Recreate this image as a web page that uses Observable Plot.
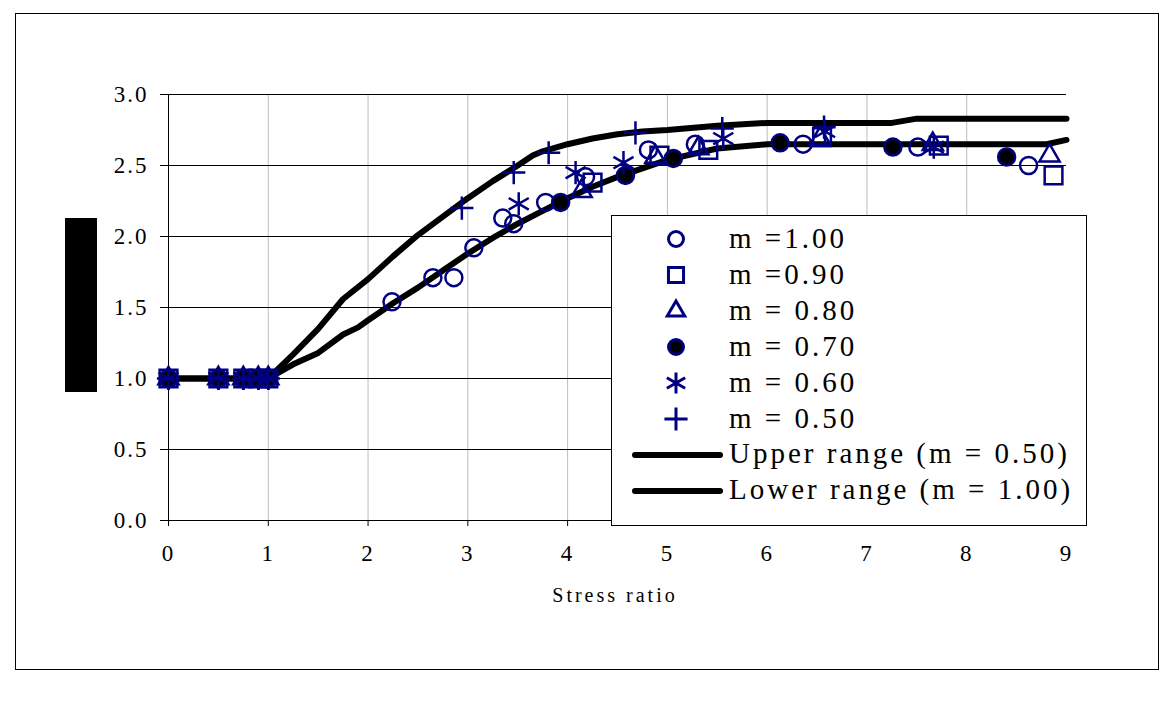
<!DOCTYPE html>
<html><head><meta charset="utf-8">
<script src="https://cdn.jsdelivr.net/npm/d3@7"></script>
<script src="https://cdn.jsdelivr.net/npm/@observablehq/plot@0.6"></script>
<style>
body{margin:0;background:#fff;}
#wrap{position:relative;width:1173px;height:704px;font-family:"Liberation Serif","Times New Roman",serif;overflow:hidden;}
#wrap > *{position:absolute;}
#frame{left:15px;top:13px;width:1142px;height:655px;border:1px solid #000;box-sizing:content-box;}
#ybox{left:65px;top:218px;width:32px;height:174px;background:#000;}
#xlabel{left:0;width:1230px;top:584px;text-align:center;font-size:20px;letter-spacing:3px;}
#legend{left:611px;top:215px;}
</style></head><body><div id="wrap"><div id="frame"></div></div>
<script>
// ---- data ----
const xTicks = [0,1,2,3,4,5,6,7,8,9];
const yTicks = [0,0.5,1.0,1.5,2.0,2.5,3.0];
const xGrid = [1,2,3,4,5,6,7,8];

const upperX = [0,1.0,1.25,1.5,1.75,2.0,2.25,2.5,2.75,3.0,3.25,3.5,3.65,3.75,4.0,4.25,4.5,4.75,5.0,5.5,6.0,6.5,7.0,7.25,7.5,8.0,8.5,9.0];
const upperY = [1,1.0,1.17,1.35,1.56,1.70,1.86,2.01,2.14,2.27,2.39,2.50,2.57,2.60,2.65,2.69,2.72,2.74,2.75,2.78,2.80,2.80,2.80,2.80,2.83,2.83,2.83,2.83];
const lowerX = [0,1.0,1.25,1.5,1.75,1.9,2.0,2.25,2.5,2.75,3.0,3.25,3.5,3.75,4.0,4.25,4.5,4.75,5.0,5.5,6.0,6.5,7.0,7.5,8.0,8.5,8.8,9.0];
const lowerY = [1,1.0,1.10,1.18,1.31,1.36,1.41,1.53,1.64,1.76,1.88,1.99,2.09,2.18,2.27,2.35,2.42,2.48,2.54,2.62,2.65,2.65,2.65,2.65,2.65,2.65,2.65,2.68];

const m100X = [0,0.5,0.75,0.9,1.0,2.24,2.65,2.86,3.06,3.35,3.46,3.78,4.18,4.81,5.28,6.36,7.51,8.62];
const m100Y = [1,1,1,1,1,1.54,1.71,1.71,1.92,2.13,2.09,2.24,2.42,2.61,2.65,2.65,2.63,2.50];
const m090X = [0,0.5,0.75,0.9,1.0,4.25,4.92,5.41,6.55,7.72,8.87];
const m090Y = [1,1,1,1,1,2.38,2.57,2.61,2.70,2.64,2.43];
const m080X = [0,0.5,0.75,0.9,1.0,4.14,4.88,5.31,6.53,7.66,8.83];
const m080Y = [1,1,1,1,1,2.32,2.56,2.62,2.69,2.65,2.57];
const m070X = [0,0.5,0.75,0.9,1.0,3.93,4.58,5.06,6.13,7.26,8.40];
const m070Y = [1,1,1,1,1,2.24,2.43,2.55,2.66,2.63,2.56];
const m060X = [0,0.5,0.75,0.9,1.0,3.51,4.08,4.56,5.56,6.58,7.67];
const m060Y = [1,1,1,1,1,2.23,2.45,2.52,2.69,2.74,2.63];
const m050X = [0,0.5,0.75,0.9,1.0,2.94,3.46,3.81,4.68,5.55,6.57];
const m050Y = [1,1,1,1,1,2.20,2.45,2.59,2.73,2.76,2.77];

const seriesNames = ["m =1.00","m =0.90","m = 0.80","m = 0.70","m = 0.60","m = 0.50"];
const lineNames = ["Upper range (m = 0.50)","Lower range (m = 1.00)"];

// ---- build ----
const navy = "#000080";
const zip = (xs, ys) => xs.map((x, i) => ({x, y: ys[i]}));
const series = [
  {name: seriesNames[0], data: zip(m100X, m100Y), symbol: "circle",   fill: "none",  r: 8.5},
  {name: seriesNames[1], data: zip(m090X, m090Y), symbol: "square",   fill: "none",  r: 10},
  {name: seriesNames[2], data: zip(m080X, m080Y), symbol: "triangle", fill: "none",  r: 7.5},
  {name: seriesNames[3], data: zip(m070X, m070Y), symbol: "circle",   fill: "#000",  r: 8.5},
  {name: seriesNames[4], data: zip(m060X, m060Y), symbol: "asterisk", fill: "none",  r: 11},
  {name: seriesNames[5], data: zip(m050X, m050Y), symbol: "plus",     fill: "none",  r: 7.5}
];
const upper = zip(upperX, upperY);
const lower = zip(lowerX, lowerY);

const chart = Plot.plot({
  width: 1173, height: 704,
  marginLeft: 168, marginRight: 107, marginTop: 94, marginBottom: 184,
  style: {background: "transparent", fontFamily: "'Liberation Serif','Times New Roman',serif", overflow: "visible"},
  x: {domain: [0, 9]},
  y: {domain: [0, 3]},
  marks: [
    Plot.ruleX(xGrid, {y1: 0, y2: 3, stroke: "#bdbdbd", strokeWidth: 1}),
    Plot.ruleY(yTicks, {x1: 0, x2: 9, stroke: "#000", strokeWidth: 1}),
    Plot.ruleX([0], {y1: 0, y2: 3, stroke: "#000", strokeWidth: 1}),
    Plot.axisY({ticks: yTicks, tickSize: 8, tickPadding: 12, tickFormat: d => d.toFixed(1), label: null,
      fontSize: 23, stroke: "#000", color: "#000", strokeOpacity: 1, textStroke: "none"}),
    Plot.axisX({ticks: xTicks, tickSize: 6, tickPadding: 18, tickFormat: d => String(d), label: null,
      fontSize: 23, stroke: "#000", strokeOpacity: 1}),
    Plot.line(upper, {x: "x", y: "y", stroke: "#000", strokeWidth: 6, strokeLinecap: "round", strokeLinejoin: "round"}),
    Plot.line(lower, {x: "x", y: "y", stroke: "#000", strokeWidth: 6, strokeLinecap: "round", strokeLinejoin: "round"}),
    ...series.map(s => Plot.dot(s.data, {x: "x", y: "y", symbol: () => s.symbol, r: s.r,
      fill: s.fill, stroke: navy, strokeWidth: 2.5}))
  ]
});
d3.select(chart).selectAll("g[aria-label$='tick label'] text, g[aria-label$='tick label']").style("letter-spacing", "2px");
const wrap = document.getElementById("wrap");
chart.style.left = "0px"; chart.style.top = "0px";
wrap.insertBefore(chart, wrap.firstChild);

const ybox = document.createElement("div"); ybox.id = "ybox"; wrap.appendChild(ybox);
const xl = document.createElement("div"); xl.id = "xlabel"; xl.textContent = "Stress ratio"; wrap.appendChild(xl);

// ---- legend ----
const symMap = {circle: d3.symbolCircle, square: d3.symbolSquare, triangle: d3.symbolTriangle, asterisk: d3.symbolAsterisk, plus: d3.symbolPlus};
const lg = d3.select(wrap).append("svg").attr("id", "legend").attr("width", 477).attr("height", 312)
  .style("font-family", "'Liberation Serif','Times New Roman',serif");
lg.append("rect").attr("x", 0.5).attr("y", 0.5).attr("width", 475).attr("height", 310).attr("fill", "#fff").attr("stroke", "#000");
const legR = [7.5, 8.5, 6.5, 7.5, 10, 7.5];
series.forEach((s, i) => {
  const cy = 24 + i * 36;
  lg.append("path").attr("transform", `translate(65,${cy})`)
    .attr("d", d3.symbol(symMap[s.symbol], Math.PI * legR[i] * legR[i])())
    .attr("fill", s.fill).attr("stroke", navy).attr("stroke-width", 3);
  lg.append("text").attr("x", 118).attr("y", cy + 9).attr("font-size", 29).attr("letter-spacing", "3px").text(s.name);
});
lineNames.forEach((n, j) => {
  const cy = 24 + (6 + j) * 36;
  lg.append("line").attr("x1", 24).attr("x2", 109).attr("y1", cy).attr("y2", cy)
    .attr("stroke", "#000").attr("stroke-width", 6).attr("stroke-linecap", "round");
  lg.append("text").attr("x", 118).attr("y", cy + 8).attr("font-size", 29).attr("letter-spacing", "3px").text(n);
});
</script></body></html>
